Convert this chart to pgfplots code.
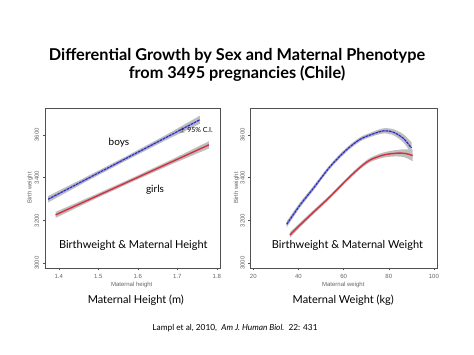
\documentclass[border=0pt]{standalone}
\usepackage{pgfplots}
\pgfplotsset{compat=1.18}
\usepgfplotslibrary{fillbetween}
\usepackage{fontspec}
\setmainfont{Lato}
\newfontfamily\tickfont{Liberation Sans}
\definecolor{bandgray}{RGB}{190,190,190}
\definecolor{boysblue}{RGB}{40,40,185}
\definecolor{lightblue}{RGB}{140,140,225}
\definecolor{girlsred}{RGB}{212,48,62}
\definecolor{framegray}{RGB}{80,80,80}
\definecolor{ticktext}{RGB}{100,100,100}

\begin{document}
\begin{tikzpicture}
\path (0pt,0pt) rectangle (474pt,355pt);
\pgfplotsset{common/.style={scale only axis, anchor=south west, height=160pt,
  axis line style={framegray, line width=0.6pt},
  tick style={framegray, line width=0.5pt}, tick align=outside, major tick length=2.5pt,
  xtick pos=bottom, ytick pos=left,
  ymin=2978, ymax=3725, ytick={3000,3200,3400,3600},
  ticklabel style={font=\tickfont\fontsize{6}{6}\selectfont, text=ticktext},
  yticklabel style={rotate=90, anchor=south},
  scaled ticks=false, /pgf/number format/assume math mode=true,
  /pgf/number format/1000 sep={}}}

% ---------- left: maternal height ----------
\begin{axis}[common, at={(45pt,87pt)}, width=175pt,
  xmin=1.365, xmax=1.808, xtick={1.4,1.5,1.6,1.7,1.8},
  xticklabels={1.4,1.5,1.6,1.7,1.8}]
% boys band
\addplot[name path=bu, draw=none, forget plot] coordinates {(1.373,3314) (1.47,3404) (1.57,3499) (1.67,3598) (1.757,3689)};
\addplot[name path=bl, draw=none, forget plot] coordinates {(1.373,3284) (1.47,3382) (1.57,3479) (1.67,3574) (1.757,3651)};
\addplot[bandgray, forget plot] fill between[of=bu and bl];
% girls band
\addplot[name path=gu, draw=none, forget plot] coordinates {(1.392,3240) (1.49,3319) (1.59,3402) (1.69,3488) (1.78,3570)};
\addplot[name path=gl, draw=none, forget plot] coordinates {(1.392,3212) (1.49,3299) (1.59,3384) (1.69,3466) (1.78,3536)};
\addplot[bandgray, forget plot] fill between[of=gu and gl];
% lines
\addplot[lightblue, line width=1.6pt] coordinates {(1.373,3299) (1.757,3670)};
\addplot[boysblue, line width=1pt, dash pattern=on 2.5pt off 1pt] coordinates {(1.373,3299) (1.757,3670)};
\addplot[girlsred, line width=1.4pt] coordinates {(1.392,3226) (1.78,3553)};
\end{axis}

% ---------- right: maternal weight ----------
\begin{axis}[common, at={(250.7pt,87pt)}, width=186.6pt,
  xmin=18.85, xmax=101.5, xtick={20,40,60,80,100}]
\addplot[name path=bu, draw=none, smooth, forget plot] coordinates {(34.8,3196) (40.7,3284) (46.6,3361) (54.0,3461) (61.3,3540) (67.2,3588) (72,3610) (77.5,3630) (82.0,3626) (86.4,3603) (89.4,3572) (90.1,3566)};
\addplot[name path=bl, draw=none, smooth, forget plot] coordinates {(34.8,3168) (40.7,3260) (46.6,3339) (54.0,3441) (61.3,3520) (67.2,3568) (72,3590) (77.5,3606) (82.0,3598) (86.4,3565) (89.4,3522) (90.1,3512)};
\addplot[bandgray, forget plot] fill between[of=bu and bl];
\addplot[name path=gu, draw=none, smooth, forget plot] coordinates {(36.2,3145) (40.7,3190) (46.6,3248) (54.0,3320) (61.3,3398) (67.2,3456) (71.7,3492) (77.5,3517) (83.5,3529) (87.2,3532) (90.6,3530)};
\addplot[name path=gl, draw=none, smooth, forget plot] coordinates {(36.2,3119) (40.7,3168) (46.6,3228) (54.0,3302) (61.3,3380) (67.2,3438) (71.7,3472) (77.5,3493) (83.5,3499) (87.2,3494) (90.6,3476)};
\addplot[bandgray, forget plot] fill between[of=gu and gl];
\addplot[lightblue, line width=1.6pt, smooth] coordinates {(34.8,3182) (40.7,3272) (46.6,3350) (54.0,3451) (61.3,3530) (67.2,3578) (72,3600) (77.5,3618) (82.0,3612) (86.4,3584) (89.4,3547) (90.1,3539)};
\addplot[boysblue, line width=1pt, smooth, dash pattern=on 2.5pt off 1pt] coordinates {(34.8,3182) (40.7,3272) (46.6,3350) (54.0,3451) (61.3,3530) (67.2,3578) (72,3600) (77.5,3618) (82.0,3612) (86.4,3584) (89.4,3547) (90.1,3539)};
\addplot[girlsred, line width=1.4pt, smooth] coordinates {(36.2,3132) (40.7,3179) (46.6,3238) (54.0,3311) (61.3,3389) (67.2,3447) (71.7,3482) (77.5,3505) (83.5,3514) (87.2,3513) (90.6,3503)};
\end{axis}

% ---------- texts ----------
\node[font=\bfseries\fontsize{16.3}{18}\selectfont, align=center] at (237pt,290.5pt) {Differential Growth by Sex and Maternal Phenotype\\from 3495 pregnancies (Chile)};
\node[font=\fontsize{10}{12}\selectfont] at (119pt,212.3pt) {boys};
\node[font=\fontsize{10}{12}\selectfont] at (155pt,165pt) {girls};
\node[font=\fontsize{7}{8}\selectfont] at (196pt,225pt) {\(\pm\) 95\% C.I.};
\node[font=\fontsize{11}{13}\selectfont] at (133.3pt,110pt) {Birthweight \& Maternal Height};
\node[font=\fontsize{11}{13}\selectfont] at (347.5pt,110pt) {Birthweight \& Maternal Weight};
\node[font=\tickfont\fontsize{6}{6}\selectfont, text=ticktext] at (131.7pt,70pt) {Maternal height};
\node[font=\tickfont\fontsize{6}{6}\selectfont, text=ticktext] at (343.3pt,70pt) {Maternal weight};
\node[font=\tickfont\fontsize{6}{6}\selectfont, text=ticktext, rotate=90] at (30pt,167pt) {Birth weight};
\node[font=\tickfont\fontsize{6}{6}\selectfont, text=ticktext, rotate=90] at (236.5pt,167pt) {Birth weight};
\node[font=\fontsize{11}{13}\selectfont] at (135.8pt,54.3pt) {Maternal Height (m)};
\node[font=\fontsize{11}{13}\selectfont] at (343.3pt,54.3pt) {Maternal Weight (kg)};
\node[font=\fontsize{8.3}{10}\selectfont] at (235pt,27.3pt) {Lampl et al, 2010,\ \ \textit{Am J. Human Biol.}\ \ 22: 431};
\end{tikzpicture}
\end{document}
